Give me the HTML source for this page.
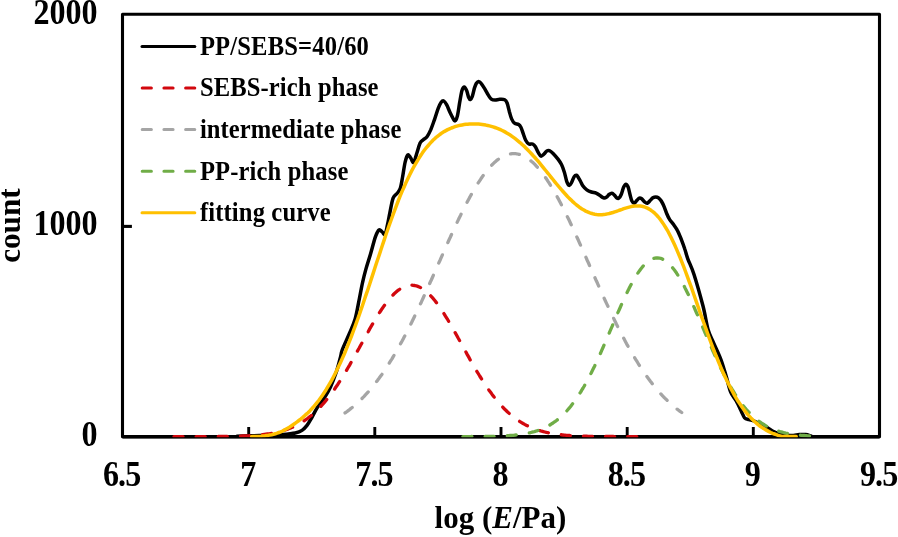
<!DOCTYPE html>
<html lang="en"><head><meta charset="utf-8"><title>Modulus histogram PP/SEBS=40/60</title>
<style>html,body{margin:0;padding:0;background:#fff}body{width:898px;height:537px;overflow:hidden}svg{display:block}text{font-family:"Liberation Serif","Times New Roman",serif;font-weight:bold;fill:#000}</style></head><body>
<svg width="898" height="537" viewBox="0 0 898 537">
<rect width="898" height="537" fill="#fff"/>
<g stroke="#000" fill="none" stroke-linejoin="round">
<rect x="122.5" y="14.3" width="757.0" height="422.5" stroke-width="3.1"/>
<path d="M122.5 436.8 H879.5" stroke-width="3.5"/>
<path d="M248.7 436.8 V427.0M374.8 436.8 V427.0M501.0 436.8 V427.0M627.2 436.8 V427.0M753.3 436.8 V427.0" stroke-width="2.9"/>
<path d="M122.5 226.4 H131.9" stroke-width="3.1"/>
</g>
<clipPath id="plot"><rect x="122.5" y="14.3" width="757.0" height="422.9"/></clipPath>
<g fill="none" stroke-linejoin="round" clip-path="url(#plot)">
<path d="M237.0 436.2 C239.2 436.1 244.8 435.9 250.0 435.8 C255.2 435.7 262.7 435.5 268.0 435.3 C273.3 435.1 277.3 435.0 281.9 434.6 C286.4 434.2 291.9 433.7 295.3 433.0 C298.7 432.3 300.1 431.7 302.0 430.4 C303.9 429.1 305.3 427.6 307.0 425.4 C308.7 423.2 310.4 419.9 312.1 417.0 C313.8 414.1 315.2 410.9 317.1 407.8 C319.1 404.7 321.6 402.1 323.8 398.6 C326.0 395.1 328.4 391.4 330.5 386.9 C332.6 382.4 334.7 376.8 336.4 371.8 C338.1 366.8 339.6 360.3 340.6 356.7 C341.6 353.1 340.8 353.8 342.2 350.0 C343.6 346.2 347.1 338.9 349.3 333.7 C351.5 328.5 353.5 324.6 355.2 318.7 C356.9 312.8 358.1 304.6 359.4 298.5 C360.6 292.4 361.6 286.6 362.7 281.8 C363.8 277.0 364.4 274.6 365.7 269.9 C367.0 265.2 369.0 259.2 370.6 253.7 C372.2 248.2 374.0 240.8 375.4 236.8 C376.8 232.9 377.9 230.8 379.0 230.0 C380.1 229.2 381.2 231.2 382.2 231.9 C383.2 232.6 384.2 235.6 385.1 234.4 C386.0 233.2 386.7 228.3 387.5 224.7 C388.3 221.1 389.0 217.0 389.9 212.6 C390.8 208.2 391.9 201.3 393.1 198.1 C394.3 194.9 396.0 194.8 397.2 193.2 C398.4 191.6 399.4 191.2 400.3 188.4 C401.2 185.6 401.9 180.7 402.7 176.3 C403.5 171.9 404.3 165.4 405.2 161.8 C406.1 158.2 406.9 155.7 407.8 155.0 C408.7 154.3 409.5 156.3 410.5 157.6 C411.5 158.8 412.6 163.2 413.6 162.5 C414.7 161.8 415.7 156.5 416.8 153.2 C417.9 149.9 419.0 145.2 420.1 142.9 C421.2 140.7 422.2 140.7 423.3 139.7 C424.4 138.7 425.8 138.4 427.0 136.8 C428.2 135.2 429.4 132.8 430.7 129.9 C431.9 127.0 433.2 123.2 434.5 119.6 C435.8 116.0 437.1 111.2 438.2 108.4 C439.3 105.6 440.1 103.7 441.0 102.5 C441.9 101.3 442.9 100.6 443.8 101.0 C444.7 101.4 445.5 102.7 446.6 104.7 C447.7 106.7 449.1 110.6 450.3 113.1 C451.5 115.6 452.8 118.3 453.7 119.6 C454.6 120.8 454.9 121.2 455.5 120.6 C456.1 120.0 456.7 118.9 457.4 115.9 C458.1 113.0 458.9 107.1 459.6 102.9 C460.4 98.7 461.1 93.4 461.9 90.7 C462.7 88.0 463.5 87.0 464.3 87.0 C465.1 87.0 466.0 89.0 466.7 90.7 C467.4 92.4 468.0 95.8 468.6 97.3 C469.2 98.8 469.8 99.7 470.4 99.5 C471.0 99.3 471.6 98.2 472.3 96.3 C473.0 94.4 473.8 90.1 474.5 87.9 C475.2 85.7 475.7 84.4 476.4 83.3 C477.1 82.2 477.8 81.4 478.6 81.4 C479.4 81.4 480.1 82.0 481.1 83.3 C482.1 84.5 483.6 86.9 484.8 88.9 C486.0 90.9 487.4 93.7 488.5 95.4 C489.6 97.1 490.2 98.3 491.3 99.1 C492.4 99.9 493.6 100.1 495.0 100.1 C496.4 100.1 498.1 99.4 499.7 99.3 C501.3 99.2 503.5 99.1 504.7 99.7 C505.9 100.3 506.3 101.0 507.1 103.0 C507.9 105.0 508.6 108.8 509.3 111.4 C510.1 114.1 510.7 116.9 511.6 118.9 C512.5 120.9 513.3 122.3 514.5 123.2 C515.7 124.1 517.5 123.8 518.6 124.5 C519.7 125.2 520.1 125.8 520.9 127.3 C521.7 128.8 522.5 131.6 523.3 133.8 C524.1 136.0 524.8 138.6 525.7 140.3 C526.6 142.0 527.8 143.4 528.9 144.0 C530.0 144.6 531.5 143.5 532.6 144.0 C533.7 144.5 534.5 145.4 535.4 146.8 C536.3 148.2 537.3 150.9 538.2 152.4 C539.1 153.9 540.1 155.8 541.0 156.1 C541.9 156.4 542.9 155.1 543.8 154.3 C544.7 153.5 545.7 151.7 546.6 151.1 C547.5 150.5 548.3 150.2 549.4 150.6 C550.5 151.0 551.7 152.0 553.1 153.4 C554.5 154.8 556.4 157.1 557.8 158.9 C559.2 160.8 560.4 162.3 561.5 164.5 C562.6 166.7 563.4 169.2 564.3 172.0 C565.2 174.8 565.9 179.1 566.7 181.3 C567.5 183.5 568.5 185.2 569.3 185.4 C570.1 185.6 570.9 183.7 571.7 182.2 C572.5 180.7 573.4 177.8 574.2 176.6 C575.0 175.4 575.9 175.1 576.6 175.3 C577.3 175.5 577.9 177.0 578.6 178.0 C579.3 179.0 579.9 180.2 580.6 181.5 C581.3 182.8 582.0 184.7 583.0 186.1 C584.0 187.5 585.4 188.8 586.8 189.8 C588.2 190.8 589.8 191.4 591.4 192.0 C593.0 192.6 594.7 192.6 596.1 193.2 C597.5 193.8 598.6 194.6 599.8 195.4 C601.0 196.2 602.4 197.5 603.5 197.8 C604.6 198.1 605.4 197.9 606.3 197.3 C607.2 196.8 608.2 195.2 609.1 194.5 C610.0 193.8 611.0 193.1 611.9 193.2 C612.8 193.3 613.5 194.2 614.3 195.0 C615.1 195.8 615.9 197.3 616.6 197.8 C617.4 198.3 618.0 198.8 618.8 198.2 C619.6 197.6 620.4 196.4 621.2 194.5 C622.0 192.6 622.9 188.7 623.7 187.0 C624.5 185.3 625.2 184.2 625.9 184.2 C626.6 184.2 627.4 185.3 628.1 187.0 C628.8 188.7 629.4 192.2 630.0 194.5 C630.6 196.8 631.2 199.6 631.9 201.0 C632.6 202.4 633.5 203.3 634.3 203.2 C635.1 203.1 635.9 201.4 636.7 200.6 C637.5 199.8 638.5 198.5 639.3 198.2 C640.1 197.9 640.8 198.2 641.7 198.8 C642.6 199.4 643.6 201.2 644.5 201.9 C645.4 202.6 646.4 203.4 647.3 203.2 C648.2 203.0 649.2 201.5 650.1 200.6 C651.0 199.7 652.0 198.4 652.9 197.8 C653.8 197.2 654.8 196.9 655.7 196.9 C656.6 196.9 657.6 197.1 658.5 197.8 C659.4 198.5 660.4 199.5 661.3 201.0 C662.2 202.5 663.2 204.4 664.1 206.6 C665.0 208.8 666.0 211.8 666.9 214.0 C667.8 216.2 668.6 217.9 669.7 219.6 C670.8 221.3 672.2 222.6 673.4 224.3 C674.6 226.0 675.9 227.6 677.1 229.9 C678.4 232.2 679.6 235.2 680.9 238.3 C682.1 241.4 683.5 245.1 684.6 248.5 C685.8 251.9 686.2 254.4 687.8 258.8 C689.4 263.2 691.6 266.8 694.1 274.7 C696.6 282.6 700.6 296.8 703.0 306.0 C705.4 315.2 706.4 323.9 708.2 330.0 C710.0 336.1 711.5 337.9 713.6 342.9 C715.8 347.9 719.0 354.3 721.1 360.0 C723.2 365.7 724.8 371.8 726.4 377.1 C728.0 382.5 729.1 388.2 730.7 392.1 C732.3 396.0 734.3 397.5 736.1 400.7 C737.9 403.9 740.0 408.5 741.4 411.4 C742.8 414.3 743.4 416.5 744.6 417.9 C745.9 419.3 747.3 419.1 748.9 419.6 C750.5 420.1 752.3 420.2 754.3 421.0 C756.3 421.8 758.6 423.2 760.7 424.3 C762.8 425.4 765.1 426.4 767.1 427.5 C769.1 428.6 770.4 430.0 772.5 431.1 C774.6 432.2 777.0 433.1 780.0 433.9 C783.0 434.6 787.5 435.5 790.7 435.6 C793.9 435.7 796.8 434.8 799.3 434.6 C801.8 434.4 803.8 434.4 805.7 434.6 C807.7 434.8 810.1 435.8 811.0 436.0" stroke="#000" stroke-width="3.5" stroke-linecap="round"/>
<path d="M173.0 436.6 L174.5 436.6 L176.1 436.6 L177.6 436.6 L179.2 436.6 L180.7 436.6 L182.3 436.6 L183.8 436.6 L185.4 436.6 L186.9 436.6 L188.5 436.6 L190.0 436.6 L191.6 436.6 L193.1 436.6 L194.7 436.6 L196.2 436.6 L197.8 436.6 L199.3 436.6 L200.9 436.6 L202.4 436.6 L204.0 436.6 L205.5 436.6 L207.1 436.6 L208.6 436.6 L210.2 436.5 L211.7 436.5 L213.2 436.5 L214.8 436.5 L216.3 436.5 L217.9 436.5 L219.4 436.5 L221.0 436.5 L222.5 436.5 L224.1 436.4 L225.6 436.4 L227.2 436.4 L228.7 436.4 L230.3 436.4 L231.8 436.3 L233.4 436.3 L234.9 436.3 L236.5 436.2 L238.0 436.2 L239.6 436.1 L241.1 436.1 L242.7 436.0 L244.2 436.0 L245.8 435.9 L247.3 435.8 L248.9 435.8 L250.4 435.7 L252.0 435.6 L253.5 435.5 L255.1 435.4 L256.6 435.2 L258.2 435.1 L259.7 434.9 L261.3 434.8 L262.8 434.6 L264.4 434.4 L265.9 434.2 L267.5 434.0 L269.0 433.8 L270.6 433.5 L272.1 433.2 L273.7 432.9 L275.2 432.6 L276.8 432.3 L278.3 431.9 L279.9 431.5 L281.4 431.1 L283.0 430.7 L284.5 430.2 L286.1 429.7 L287.6 429.1 L289.2 428.5 L290.7 427.9 L292.3 427.3 L293.8 426.6 L295.4 425.8 L296.9 425.1 L298.5 424.2 L300.0 423.4 L301.6 422.4 L303.1 421.5 L304.7 420.4 L306.2 419.4 L307.8 418.2 L309.3 417.0 L310.9 415.8 L312.4 414.5 L314.0 413.1 L315.5 411.7 L317.1 410.2 L318.6 408.7 L320.2 407.1 L321.7 405.4 L323.3 403.7 L324.8 401.9 L326.4 400.0 L327.9 398.1 L329.4 396.1 L331.0 394.1 L332.5 392.0 L334.1 389.8 L335.6 387.5 L337.2 385.3 L338.7 382.9 L340.3 380.5 L341.8 378.1 L343.4 375.6 L344.9 373.0 L346.5 370.4 L348.0 367.8 L349.6 365.1 L351.1 362.4 L352.7 359.7 L354.2 356.9 L355.8 354.1 L357.3 351.3 L358.9 348.5 L360.4 345.7 L362.0 342.9 L363.5 340.1 L365.1 337.3 L366.6 334.5 L368.2 331.7 L369.7 328.9 L371.3 326.2 L372.8 323.6 L374.4 320.9 L375.9 318.3 L377.5 315.8 L379.0 313.4 L380.6 311.0 L382.1 308.7 L383.7 306.4 L385.2 304.3 L386.8 302.2 L388.3 300.2 L389.9 298.4 L391.4 296.6 L393.0 295.0 L394.5 293.4 L396.1 292.0 L397.6 290.7 L399.2 289.6 L400.7 288.5 L402.3 287.6 L403.8 286.9 L405.4 286.3 L406.9 285.8 L408.5 285.4 L410.0 285.2 L411.6 285.2 L413.1 285.3 L414.7 285.5 L416.2 285.8 L417.8 286.4 L419.3 287.0 L420.9 287.8 L422.4 288.7 L424.0 289.8 L425.5 291.0 L427.1 292.3 L428.6 293.7 L430.2 295.3 L431.7 296.9 L433.3 298.7 L434.8 300.6 L436.4 302.6 L437.9 304.6 L439.5 306.8 L441.0 309.1 L442.5 311.4 L444.1 313.8 L445.6 316.3 L447.2 318.8 L448.7 321.4 L450.3 324.0 L451.8 326.7 L453.4 329.4 L454.9 332.2 L456.5 335.0 L458.0 337.8 L459.6 340.6 L461.1 343.4 L462.7 346.2 L464.2 349.0 L465.8 351.8 L467.3 354.6 L468.9 357.4 L470.4 360.2 L472.0 362.9 L473.5 365.6 L475.1 368.3 L476.6 370.9 L478.2 373.5 L479.7 376.0 L481.3 378.5 L482.8 381.0 L484.4 383.3 L485.9 385.7 L487.5 388.0 L489.0 390.2 L490.6 392.3 L492.1 394.4 L493.7 396.5 L495.2 398.5 L496.8 400.4 L498.3 402.2 L499.9 404.0 L501.4 405.7 L503.0 407.4 L504.5 409.0 L506.1 410.5 L507.6 412.0 L509.2 413.4 L510.7 414.7 L512.3 416.0 L513.8 417.3 L515.4 418.4 L516.9 419.6 L518.5 420.6 L520.0 421.6 L521.6 422.6 L523.1 423.5 L524.7 424.4 L526.2 425.2 L527.8 426.0 L529.3 426.7 L530.9 427.4 L532.4 428.0 L534.0 428.7 L535.5 429.2 L537.1 429.8 L538.6 430.3 L540.2 430.7 L541.7 431.2 L543.3 431.6 L544.8 432.0 L546.4 432.4 L547.9 432.7 L549.5 433.0 L551.0 433.3 L552.6 433.6 L554.1 433.8 L555.7 434.0 L557.2 434.3 L558.7 434.5 L560.3 434.6 L561.8 434.8 L563.4 435.0 L564.9 435.1 L566.5 435.3 L568.0 435.4 L569.6 435.5 L571.1 435.6 L572.7 435.7 L574.2 435.8 L575.8 435.8 L577.3 435.9 L578.9 436.0 L580.4 436.0 L582.0 436.1 L583.5 436.1 L585.1 436.2 L586.6 436.2 L588.2 436.3 L589.7 436.3 L591.3 436.3 L592.8 436.4 L594.4 436.4 L595.9 436.4 L597.5 436.4 L599.0 436.4 L600.6 436.5 L602.1 436.5 L603.7 436.5 L605.2 436.5 L606.8 436.5 L608.3 436.5 L609.9 436.5 L611.4 436.5 L613.0 436.5 L614.5 436.6 L616.1 436.6 L617.6 436.6 L619.2 436.6 L620.7 436.6 L622.3 436.6 L623.8 436.6 L625.4 436.6 L626.9 436.6 L628.5 436.6 L630.0 436.6 L631.6 436.6 L633.1 436.6 L634.7 436.6 L636.2 436.6 L637.8 436.6" stroke="#d2080e" stroke-width="3.3" stroke-dasharray="9.0 13.15" stroke-dashoffset="-1.0" stroke-linecap="round"/>
<path d="M344.8 413.1 L345.9 412.3 L347.1 411.5 L348.2 410.6 L349.3 409.8 L350.4 408.9 L351.5 408.0 L352.7 407.1 L353.8 406.1 L354.9 405.2 L356.0 404.2 L357.2 403.2 L358.3 402.1 L359.4 401.1 L360.5 400.0 L361.6 398.9 L362.8 397.7 L363.9 396.6 L365.0 395.4 L366.1 394.2 L367.3 392.9 L368.4 391.7 L369.5 390.4 L370.6 389.1 L371.8 387.7 L372.9 386.3 L374.0 384.9 L375.1 383.5 L376.2 382.1 L377.4 380.6 L378.5 379.1 L379.6 377.5 L380.7 376.0 L381.9 374.4 L383.0 372.8 L384.1 371.1 L385.2 369.4 L386.4 367.7 L387.5 366.0 L388.6 364.2 L389.7 362.4 L390.8 360.6 L392.0 358.8 L393.1 356.9 L394.2 355.0 L395.3 353.1 L396.5 351.2 L397.6 349.2 L398.7 347.2 L399.8 345.2 L400.9 343.1 L402.1 341.0 L403.2 338.9 L404.3 336.8 L405.4 334.7 L406.6 332.5 L407.7 330.3 L408.8 328.1 L409.9 325.8 L411.1 323.6 L412.2 321.3 L413.3 319.0 L414.4 316.7 L415.5 314.3 L416.7 312.0 L417.8 309.6 L418.9 307.2 L420.0 304.8 L421.2 302.4 L422.3 299.9 L423.4 297.5 L424.5 295.0 L425.7 292.5 L426.8 290.0 L427.9 287.5 L429.0 285.0 L430.1 282.5 L431.3 280.0 L432.4 277.5 L433.5 274.9 L434.6 272.4 L435.8 269.8 L436.9 267.3 L438.0 264.7 L439.1 262.2 L440.3 259.7 L441.4 257.1 L442.5 254.6 L443.6 252.0 L444.7 249.5 L445.9 247.0 L447.0 244.5 L448.1 242.0 L449.2 239.5 L450.4 237.0 L451.5 234.5 L452.6 232.1 L453.7 229.6 L454.8 227.2 L456.0 224.8 L457.1 222.4 L458.2 220.1 L459.3 217.7 L460.5 215.4 L461.6 213.1 L462.7 210.9 L463.8 208.6 L465.0 206.4 L466.1 204.2 L467.2 202.1 L468.3 200.0 L469.4 197.9 L470.6 195.8 L471.7 193.8 L472.8 191.9 L473.9 189.9 L475.1 188.0 L476.2 186.2 L477.3 184.3 L478.4 182.6 L479.6 180.8 L480.7 179.2 L481.8 177.5 L482.9 175.9 L484.0 174.4 L485.2 172.9 L486.3 171.4 L487.4 170.1 L488.5 168.7 L489.7 167.4 L490.8 166.2 L491.9 165.0 L493.0 163.9 L494.1 162.8 L495.3 161.8 L496.4 160.8 L497.5 159.9 L498.6 159.1 L499.8 158.3 L500.9 157.6 L502.0 156.9 L503.1 156.3 L504.3 155.7 L505.4 155.3 L506.5 154.8 L507.6 154.5 L508.7 154.2 L509.9 153.9 L511.0 153.8 L512.1 153.6 L513.2 153.6 L514.4 153.6 L515.5 153.7 L516.6 153.8 L517.7 154.0 L518.9 154.3 L520.0 154.6 L521.1 155.0 L522.2 155.4 L523.3 155.9 L524.5 156.5 L525.6 157.1 L526.7 157.8 L527.8 158.5 L529.0 159.3 L530.1 160.2 L531.2 161.1 L532.3 162.1 L533.5 163.1 L534.6 164.2 L535.7 165.4 L536.8 166.6 L537.9 167.8 L539.1 169.1 L540.2 170.5 L541.3 171.9 L542.4 173.4 L543.6 174.9 L544.7 176.4 L545.8 178.0 L546.9 179.7 L548.0 181.4 L549.2 183.1 L550.3 184.9 L551.4 186.8 L552.5 188.6 L553.7 190.5 L554.8 192.5 L555.9 194.5 L557.0 196.5 L558.2 198.6 L559.3 200.7 L560.4 202.8 L561.5 204.9 L562.6 207.1 L563.8 209.4 L564.9 211.6 L566.0 213.9 L567.1 216.2 L568.3 218.5 L569.4 220.8 L570.5 223.2 L571.6 225.6 L572.8 228.0 L573.9 230.4 L575.0 232.9 L576.1 235.3 L577.2 237.8 L578.4 240.3 L579.5 242.8 L580.6 245.3 L581.7 247.8 L582.9 250.3 L584.0 252.9 L585.1 255.4 L586.2 257.9 L587.3 260.5 L588.5 263.0 L589.6 265.6 L590.7 268.1 L591.8 270.7 L593.0 273.2 L594.1 275.7 L595.2 278.3 L596.3 280.8 L597.5 283.3 L598.6 285.8 L599.7 288.3 L600.8 290.8 L601.9 293.3 L603.1 295.8 L604.2 298.3 L605.3 300.7 L606.4 303.1 L607.6 305.6 L608.7 308.0 L609.8 310.4 L610.9 312.7 L612.1 315.1 L613.2 317.4 L614.3 319.7 L615.4 322.0 L616.5 324.3 L617.7 326.6 L618.8 328.8 L619.9 331.0 L621.0 333.2 L622.2 335.4 L623.3 337.5 L624.4 339.6 L625.5 341.7 L626.6 343.8 L627.8 345.8 L628.9 347.8 L630.0 349.8 L631.1 351.8 L632.3 353.7 L633.4 355.6 L634.5 357.5 L635.6 359.4 L636.8 361.2 L637.9 363.0 L639.0 364.8 L640.1 366.6 L641.2 368.3 L642.4 370.0 L643.5 371.6 L644.6 373.3 L645.7 374.9 L646.9 376.5 L648.0 378.0 L649.1 379.6 L650.2 381.1 L651.4 382.5 L652.5 384.0 L653.6 385.4 L654.7 386.8 L655.8 388.2 L657.0 389.5 L658.1 390.8 L659.2 392.1 L660.3 393.3 L661.5 394.6 L662.6 395.8 L663.7 397.0 L664.8 398.1 L666.0 399.2 L667.1 400.3 L668.2 401.4 L669.3 402.5 L670.4 403.5 L671.6 404.5 L672.7 405.5 L673.8 406.4 L674.9 407.4 L676.1 408.3 L677.2 409.2 L678.3 410.0 L679.4 410.9 L680.5 411.7 L681.7 412.5" stroke="#a5a5a5" stroke-width="3.3" stroke-dasharray="9.0 13.35" stroke-dashoffset="-0.3" stroke-linecap="round"/>
<path d="M462.6 436.6 L463.8 436.6 L465.0 436.6 L466.1 436.6 L467.3 436.6 L468.4 436.6 L469.6 436.6 L470.8 436.6 L471.9 436.5 L473.1 436.5 L474.2 436.5 L475.4 436.5 L476.5 436.5 L477.7 436.5 L478.9 436.5 L480.0 436.5 L481.2 436.5 L482.3 436.5 L483.5 436.5 L484.7 436.4 L485.8 436.4 L487.0 436.4 L488.1 436.4 L489.3 436.4 L490.4 436.4 L491.6 436.3 L492.8 436.3 L493.9 436.3 L495.1 436.2 L496.2 436.2 L497.4 436.2 L498.5 436.1 L499.7 436.1 L500.9 436.1 L502.0 436.0 L503.2 436.0 L504.3 435.9 L505.5 435.8 L506.7 435.8 L507.8 435.7 L509.0 435.6 L510.1 435.5 L511.3 435.5 L512.4 435.4 L513.6 435.3 L514.8 435.1 L515.9 435.0 L517.1 434.9 L518.2 434.8 L519.4 434.6 L520.6 434.5 L521.7 434.3 L522.9 434.1 L524.0 433.9 L525.2 433.7 L526.3 433.5 L527.5 433.3 L528.7 433.0 L529.8 432.8 L531.0 432.5 L532.1 432.2 L533.3 431.9 L534.5 431.6 L535.6 431.2 L536.8 430.9 L537.9 430.5 L539.1 430.1 L540.2 429.6 L541.4 429.2 L542.6 428.7 L543.7 428.2 L544.9 427.6 L546.0 427.1 L547.2 426.5 L548.4 425.8 L549.5 425.2 L550.7 424.5 L551.8 423.7 L553.0 423.0 L554.1 422.2 L555.3 421.4 L556.5 420.5 L557.6 419.6 L558.8 418.6 L559.9 417.6 L561.1 416.6 L562.3 415.5 L563.4 414.4 L564.6 413.2 L565.7 412.0 L566.9 410.8 L568.0 409.5 L569.2 408.1 L570.4 406.7 L571.5 405.2 L572.7 403.7 L573.8 402.2 L575.0 400.6 L576.1 398.9 L577.3 397.2 L578.5 395.5 L579.6 393.7 L580.8 391.8 L581.9 389.9 L583.1 388.0 L584.3 386.0 L585.4 383.9 L586.6 381.8 L587.7 379.7 L588.9 377.5 L590.0 375.2 L591.2 373.0 L592.4 370.6 L593.5 368.3 L594.7 365.9 L595.8 363.4 L597.0 360.9 L598.2 358.4 L599.3 355.9 L600.5 353.3 L601.6 350.7 L602.8 348.0 L603.9 345.4 L605.1 342.7 L606.3 340.0 L607.4 337.3 L608.6 334.6 L609.7 331.8 L610.9 329.1 L612.1 326.4 L613.2 323.6 L614.4 320.9 L615.5 318.2 L616.7 315.5 L617.8 312.8 L619.0 310.2 L620.2 307.5 L621.3 304.9 L622.5 302.3 L623.6 299.8 L624.8 297.3 L626.0 294.8 L627.1 292.4 L628.3 290.1 L629.4 287.8 L630.6 285.5 L631.7 283.4 L632.9 281.3 L634.1 279.2 L635.2 277.3 L636.4 275.4 L637.5 273.6 L638.7 271.9 L639.9 270.2 L641.0 268.7 L642.2 267.2 L643.3 265.9 L644.5 264.6 L645.6 263.5 L646.8 262.4 L648.0 261.5 L649.1 260.7 L650.3 259.9 L651.4 259.3 L652.6 258.8 L653.7 258.4 L654.9 258.1 L656.1 258.0 L657.2 257.9 L658.4 258.0 L659.5 258.2 L660.7 258.4 L661.9 258.8 L663.0 259.4 L664.2 260.0 L665.3 260.7 L666.5 261.5 L667.6 262.5 L668.8 263.5 L670.0 264.7 L671.1 266.0 L672.3 267.3 L673.4 268.8 L674.6 270.3 L675.8 271.9 L676.9 273.7 L678.1 275.5 L679.2 277.4 L680.4 279.3 L681.5 281.4 L682.7 283.5 L683.9 285.6 L685.0 287.9 L686.2 290.2 L687.3 292.6 L688.5 295.0 L689.7 297.4 L690.8 299.9 L692.0 302.5 L693.1 305.0 L694.3 307.7 L695.4 310.3 L696.6 313.0 L697.8 315.6 L698.9 318.3 L700.1 321.1 L701.2 323.8 L702.4 326.5 L703.6 329.3 L704.7 332.0 L705.9 334.7 L707.0 337.4 L708.2 340.1 L709.3 342.8 L710.5 345.5 L711.7 348.2 L712.8 350.8 L714.0 353.4 L715.1 356.0 L716.3 358.5 L717.5 361.1 L718.6 363.5 L719.8 366.0 L720.9 368.4 L722.1 370.8 L723.2 373.1 L724.4 375.4 L725.6 377.6 L726.7 379.8 L727.9 381.9 L729.0 384.0 L730.2 386.1 L731.4 388.1 L732.5 390.0 L733.7 391.9 L734.8 393.8 L736.0 395.6 L737.1 397.3 L738.3 399.0 L739.5 400.7 L740.6 402.3 L741.8 403.8 L742.9 405.3 L744.1 406.8 L745.2 408.2 L746.4 409.5 L747.6 410.8 L748.7 412.1 L749.9 413.3 L751.0 414.5 L752.2 415.6 L753.4 416.6 L754.5 417.7 L755.7 418.7 L756.8 419.6 L758.0 420.5 L759.1 421.4 L760.3 422.2 L761.5 423.0 L762.6 423.8 L763.8 424.5 L764.9 425.2 L766.1 425.9 L767.3 426.5 L768.4 427.1 L769.6 427.6 L770.7 428.2 L771.9 428.7 L773.0 429.2 L774.2 429.6 L775.4 430.1 L776.5 430.5 L777.7 430.9 L778.8 431.2 L780.0 431.6 L781.2 431.9 L782.3 432.2 L783.5 432.5 L784.6 432.8 L785.8 433.1 L786.9 433.3 L788.1 433.5 L789.3 433.7 L790.4 433.9 L791.6 434.1 L792.7 434.3 L793.9 434.5 L795.1 434.6 L796.2 434.8 L797.4 434.9 L798.5 435.0 L799.7 435.1 L800.8 435.3 L802.0 435.4 L803.2 435.5 L804.3 435.5 L805.5 435.6 L806.6 435.7 L807.8 435.8 L809.0 435.8 L810.1 435.9" stroke="#70ad47" stroke-width="3.3" stroke-dasharray="9.0 13.21" stroke-dashoffset="-0.3" stroke-linecap="round"/>
<path d="M251.7 436.5 L253.5 436.5 L255.3 436.5 L257.1 436.5 L259.0 436.5 L260.8 436.4 L262.6 436.1 L264.4 435.9 L266.2 435.6 L268.0 435.4 L269.8 435.0 L271.7 434.7 L273.5 434.3 L275.3 433.8 L277.1 433.2 L278.9 432.5 L280.7 431.8 L282.6 431.0 L284.4 430.0 L286.2 429.0 L288.0 428.0 L289.8 426.9 L291.6 425.7 L293.4 424.5 L295.3 423.2 L297.1 421.9 L298.9 420.5 L300.7 419.1 L302.5 417.6 L304.3 416.0 L306.1 414.4 L308.0 412.7 L309.8 410.9 L311.6 409.0 L313.4 407.0 L315.2 404.8 L317.0 402.6 L318.9 400.3 L320.7 397.8 L322.5 395.2 L324.3 392.5 L326.1 389.7 L327.9 386.7 L329.7 383.6 L331.6 380.4 L333.4 377.0 L335.2 373.5 L337.0 369.9 L338.8 366.1 L340.6 362.2 L342.5 358.1 L344.3 354.0 L346.1 349.6 L347.9 345.2 L349.7 340.6 L351.5 336.0 L353.3 331.2 L355.2 326.2 L357.0 321.2 L358.8 316.1 L360.6 310.9 L362.4 305.7 L364.2 300.3 L366.0 294.9 L367.9 289.5 L369.7 284.0 L371.5 278.4 L373.3 272.9 L375.1 267.3 L376.9 261.8 L378.8 256.3 L380.6 250.8 L382.4 245.3 L384.2 239.9 L386.0 234.5 L387.8 229.3 L389.6 224.1 L391.5 219.0 L393.3 214.0 L395.1 209.1 L396.9 204.3 L398.7 199.7 L400.5 195.2 L402.3 190.9 L404.2 186.7 L406.0 182.6 L407.8 178.7 L409.6 175.0 L411.4 171.4 L413.2 168.0 L415.1 164.7 L416.9 161.6 L418.7 158.6 L420.5 155.8 L422.3 153.1 L424.1 150.6 L425.9 148.2 L427.8 146.0 L429.6 143.9 L431.4 141.9 L433.2 140.1 L435.0 138.4 L436.8 136.8 L438.7 135.3 L440.5 134.0 L442.3 132.7 L444.1 131.6 L445.9 130.6 L447.7 129.6 L449.5 128.8 L451.4 128.0 L453.2 127.3 L455.0 126.7 L456.8 126.1 L458.6 125.6 L460.4 125.2 L462.2 124.9 L464.1 124.6 L465.9 124.3 L467.7 124.2 L469.5 124.0 L471.3 123.9 L473.1 123.9 L475.0 123.9 L476.8 124.0 L478.6 124.1 L480.4 124.3 L482.2 124.5 L484.0 124.8 L485.8 125.1 L487.7 125.5 L489.5 125.9 L491.3 126.4 L493.1 126.9 L494.9 127.5 L496.7 128.2 L498.6 128.9 L500.4 129.7 L502.2 130.5 L504.0 131.4 L505.8 132.4 L507.6 133.5 L509.4 134.6 L511.3 135.8 L513.1 137.1 L514.9 138.4 L516.7 139.8 L518.5 141.3 L520.3 142.8 L522.1 144.5 L524.0 146.1 L525.8 147.9 L527.6 149.7 L529.4 151.6 L531.2 153.5 L533.0 155.5 L534.9 157.5 L536.7 159.6 L538.5 161.7 L540.3 163.9 L542.1 166.1 L543.9 168.3 L545.7 170.5 L547.6 172.8 L549.4 175.0 L551.2 177.3 L553.0 179.5 L554.8 181.8 L556.6 184.0 L558.4 186.2 L560.3 188.3 L562.1 190.5 L563.9 192.5 L565.7 194.5 L567.5 196.5 L569.3 198.4 L571.2 200.1 L573.0 201.9 L574.8 203.5 L576.6 205.0 L578.4 206.4 L580.2 207.8 L582.0 209.0 L583.9 210.1 L585.7 211.1 L587.5 211.9 L589.3 212.7 L591.1 213.3 L592.9 213.8 L594.8 214.2 L596.6 214.5 L598.4 214.7 L600.2 214.7 L602.0 214.7 L603.8 214.5 L605.6 214.3 L607.5 213.9 L609.3 213.5 L611.1 213.0 L612.9 212.5 L614.7 211.9 L616.5 211.3 L618.3 210.7 L620.2 210.0 L622.0 209.4 L623.8 208.7 L625.6 208.1 L627.4 207.6 L629.2 207.1 L631.1 206.6 L632.9 206.3 L634.7 206.0 L636.5 205.9 L638.3 205.9 L640.1 206.0 L641.9 206.3 L643.8 206.7 L645.6 207.3 L647.4 208.1 L649.2 209.1 L651.0 210.3 L652.8 211.6 L654.7 213.2 L656.5 215.0 L658.3 217.0 L660.1 219.2 L661.9 221.7 L663.7 224.4 L665.5 227.2 L667.4 230.3 L669.2 233.7 L671.0 237.2 L672.8 240.9 L674.6 244.8 L676.4 248.9 L678.2 253.1 L680.1 257.5 L681.9 262.1 L683.7 266.7 L685.5 271.5 L687.3 276.4 L689.1 281.4 L691.0 286.4 L692.8 291.5 L694.6 296.7 L696.4 301.8 L698.2 307.0 L700.0 312.2 L701.8 317.4 L703.7 322.5 L705.5 327.6 L707.3 332.6 L709.1 337.6 L710.9 342.5 L712.7 347.3 L714.5 352.0 L716.4 356.5 L718.2 361.0 L720.0 365.4 L721.8 369.6 L723.6 373.7 L725.4 377.6 L727.3 381.5 L729.1 385.1 L730.9 388.7 L732.7 392.0 L734.5 395.3 L736.3 398.3 L738.1 401.3 L740.0 404.1 L741.8 406.7 L743.6 409.2 L745.4 411.6 L747.2 413.8 L749.0 415.9 L750.9 417.9 L752.7 419.7 L754.5 421.4 L756.3 423.1 L758.1 424.6 L759.9 426.0 L761.7 427.3 L763.6 428.5 L765.4 429.6 L767.2 430.6 L769.0 431.6 L770.8 432.5 L772.6 433.3 L774.4 434.0 L776.3 434.7 L778.1 435.4 L779.9 435.9 L781.7 436.4 L783.5 436.5 L785.3 436.5 L787.2 436.5 L789.0 436.5 L790.8 436.5 L792.6 436.5 L794.4 436.5 L796.2 436.5" stroke="#ffc000" stroke-width="3.5" stroke-linecap="round"/>
</g>
<g font-size="32.1">
<text transform="translate(122.1 486.0) scale(1 1.085)" text-anchor="middle" textLength="38.3" lengthAdjust="spacing">6.5</text>
<text transform="translate(248.3 486.0) scale(1 1.085)" text-anchor="middle">7</text>
<text transform="translate(374.4 486.0) scale(1 1.085)" text-anchor="middle" textLength="38.3" lengthAdjust="spacing">7.5</text>
<text transform="translate(500.6 486.0) scale(1 1.085)" text-anchor="middle">8</text>
<text transform="translate(626.8 486.0) scale(1 1.085)" text-anchor="middle" textLength="38.3" lengthAdjust="spacing">8.5</text>
<text transform="translate(752.9 486.0) scale(1 1.085)" text-anchor="middle">9</text>
<text transform="translate(879.1 486.0) scale(1 1.085)" text-anchor="middle" textLength="38.3" lengthAdjust="spacing">9.5</text>
<text transform="translate(97.6 23.5) scale(1 1.085)" text-anchor="end">2000</text>
<text transform="translate(97.6 234.6) scale(1 1.085)" text-anchor="end">1000</text>
<text transform="translate(97.6 446.4) scale(1 1.085)" text-anchor="end">0</text>
</g>
<g font-size="31">
<text x="500.4" y="527.8" text-anchor="middle">log (<tspan font-style="italic">E</tspan>/Pa)</text>
<text transform="translate(20.0 225.6) rotate(-90)" text-anchor="middle" font-size="31.2">count</text>
</g>
<g font-size="24.6">
<path d="M142 46.4 H194.8" stroke="#000" stroke-width="3" stroke-linecap="round" fill="none"/>
<text transform="translate(199.9 54.8) scale(1 1.09)" textLength="169.0" lengthAdjust="spacing">PP/SEBS=40/60</text>
<path d="M142.2 88.0 H196" stroke="#d2080e" stroke-width="3" stroke-linecap="round" stroke-dasharray="9.2 12.5" fill="none"/>
<text transform="translate(199.9 96.4) scale(1 1.09)" textLength="178.6" lengthAdjust="spacing">SEBS-rich phase</text>
<path d="M142.2 129.6 H196" stroke="#a5a5a5" stroke-width="3" stroke-linecap="round" stroke-dasharray="9.2 12.5" fill="none"/>
<text transform="translate(199.9 138.0) scale(1 1.09)" textLength="201.4" lengthAdjust="spacing">intermediate phase</text>
<path d="M142.2 171.2 H196" stroke="#70ad47" stroke-width="3" stroke-linecap="round" stroke-dasharray="9.2 12.5" fill="none"/>
<text transform="translate(199.9 179.6) scale(1 1.09)" textLength="148.4" lengthAdjust="spacing">PP-rich phase</text>
<path d="M142 212.8 H194.8" stroke="#ffc000" stroke-width="3" stroke-linecap="round" fill="none"/>
<text transform="translate(199.9 221.2) scale(1 1.09)" textLength="130.7" lengthAdjust="spacing">fitting curve</text>
</g>
</svg></body></html>
